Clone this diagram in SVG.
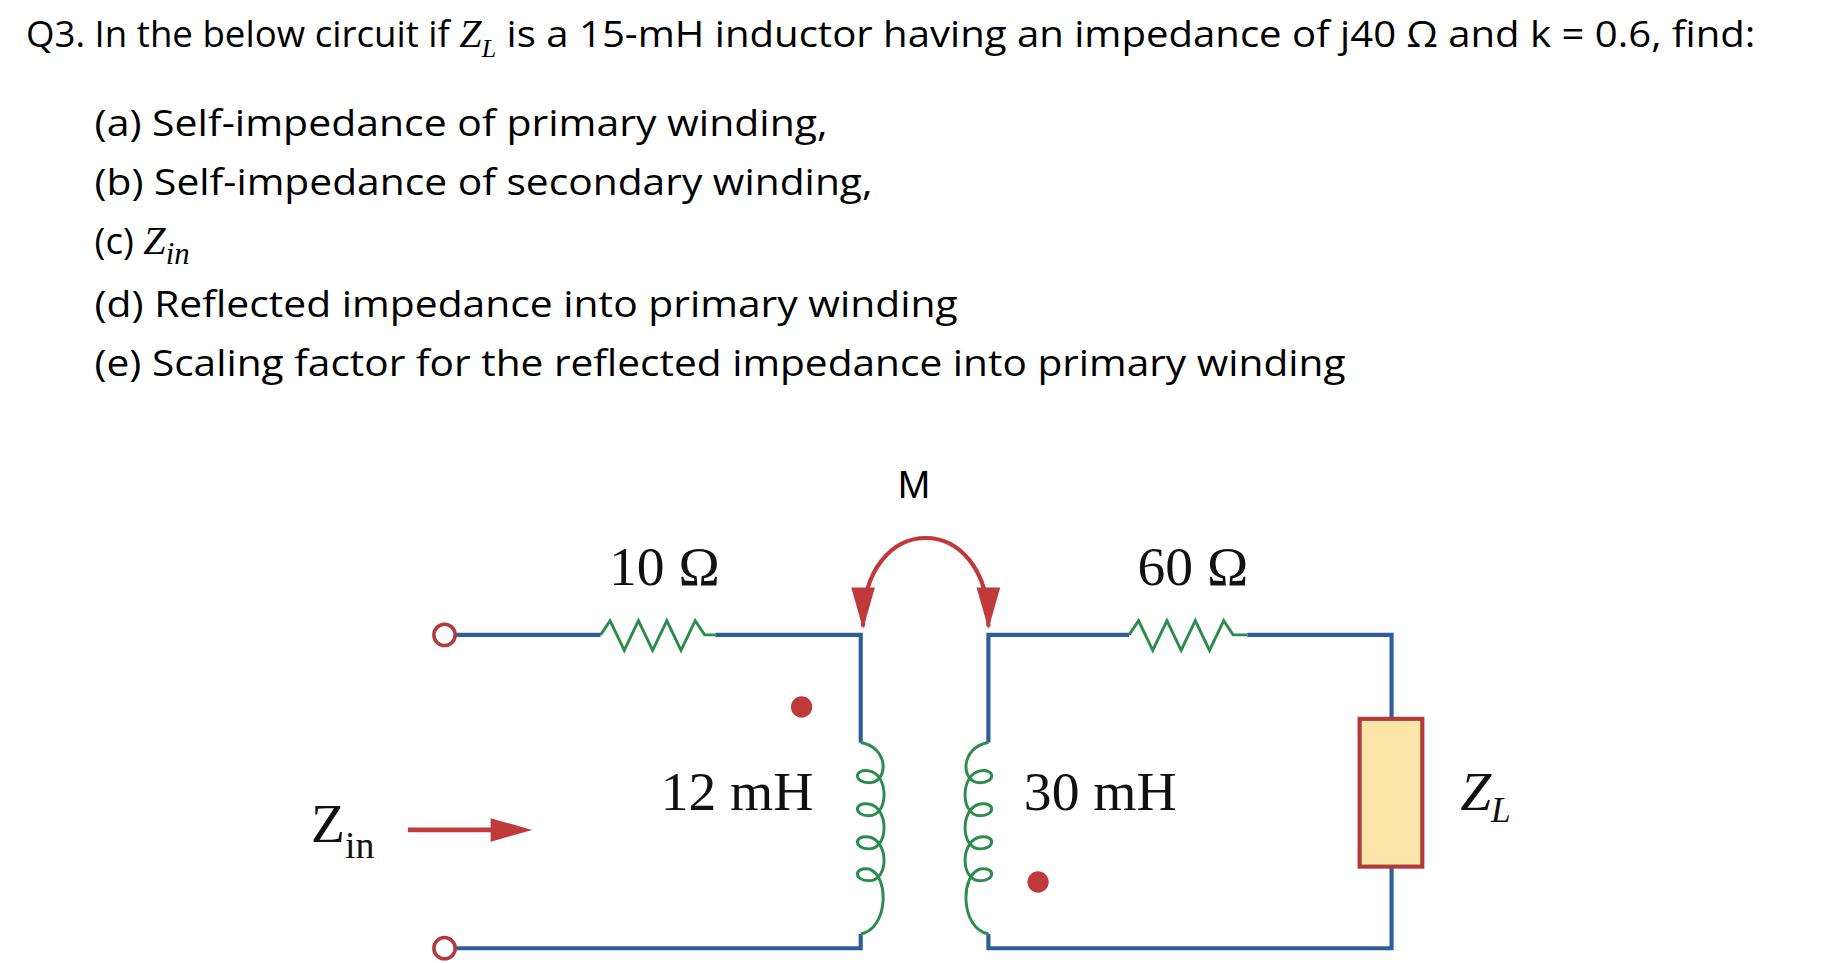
<svg xmlns="http://www.w3.org/2000/svg" width="1835" height="963" viewBox="0 0 1835 963">
<style>
.t{font-family:"Open Sans","Liberation Sans",sans-serif;font-size:31px;fill:#000}
.s{font-family:"Liberation Serif",serif;font-size:47px;fill:#111}
.w{fill:none;stroke:#2f5d9a;stroke-width:3.5}
.g{fill:none;stroke:#2e8b4e;stroke-width:2.5}
.r{fill:#c0393b}
</style>
<rect width="1835" height="963" fill="#fff"/>
<g transform="scale(1.1823)">
<g id="question">
<text class="t" x="22" y="40">Q3. In the below circuit if <tspan font-family="Liberation Serif" font-style="italic" font-size="34">Z</tspan><tspan font-family="Liberation Serif" font-style="italic" font-size="22" dy="8">L</tspan><tspan dy="-8" textLength="1065" lengthAdjust="spacingAndGlyphs"> is a 15-mH inductor having an impedance of j40 Ω and k = 0.6, find:</tspan></text>
<text class="t" x="80" y="115" textLength="620" lengthAdjust="spacingAndGlyphs">(a) Self-impedance of primary winding,</text>
<text class="t" x="80" y="165" textLength="658" lengthAdjust="spacingAndGlyphs">(b) Self-impedance of secondary winding,</text>
<text class="t" x="80" y="215">(c)  <tspan font-family="Liberation Serif" font-style="italic" font-size="34">Z</tspan><tspan font-family="Liberation Serif" font-style="italic" font-size="26" dy="8">in</tspan></text>
<text class="t" x="80" y="268" textLength="730" lengthAdjust="spacingAndGlyphs">(d) Reflected impedance into primary winding</text>
<text class="t" x="80" y="318" textLength="1058" lengthAdjust="spacingAndGlyphs">(e) Scaling factor for the reflected impedance into primary winding</text>
</g>
<g id="connectors">
<path class="w" d="M385,537H508M605,537H728V628M728,790V802H385"/>
<path class="w" d="M836,628V537H955M1055,537H1177V608M1177,733V802H836V790"/>
</g>
<g id="terminals">
<circle cx="376" cy="537" r="9" fill="#fff" stroke="#b23a3c" stroke-width="3"/>
<circle cx="376" cy="802" r="9" fill="#fff" stroke="#b23a3c" stroke-width="3"/>
</g>
<g id="R1"><path class="g" d="M508,537L516,525L528,550L540,525L552,550L564,525L576,550L588,525L596,537L605,537"/><text class="s" x="562" y="495" text-anchor="middle">10 Ω</text></g>
<g id="R2"><path class="g" d="M955,537L963,525L975,550L987,525L999,550L1011,525L1023,550L1035,525L1043,537L1055,537"/><text class="s" x="1009" y="495" text-anchor="middle">60 Ω</text></g>
<g id="L1"><path class="g" d="M728,628C752,632 752,662 735,662C722,662 722,650 735,652C752,655 752,690 735,690C722,690 722,678 735,680C752,683 752,718 735,718C722,718 722,706 735,708C752,711 752,745 735,745C722,745 722,733 735,735C752,740 752,785 728,790"/><text class="s" x="688" y="685" text-anchor="end">12 mH</text></g>
<g id="L2"><path class="g" d="M836,628C812,632 812,662 829,662C842,662 842,650 829,652C812,655 812,690 829,690C842,690 842,678 829,680C812,683 812,718 829,718C842,718 842,706 829,708C812,711 812,745 829,745C842,745 842,733 829,735C812,740 812,785 836,790"/><text class="s" x="866" y="685">30 mH</text></g>
<g id="dots"><circle class="r" cx="678" cy="598" r="9"/><circle class="r" cx="878" cy="746" r="9"/></g>
<g id="ZL"><rect x="1150" y="608" width="53" height="125" fill="#fbe6aa" stroke="#b23a3c" stroke-width="3.5"/><text class="s" x="1235" y="685" font-style="italic">Z<tspan font-size="30" dy="10">L</tspan></text></g>
<g id="M"><path d="M730,530C728,430 838,430 836,530" fill="none" stroke="#c0393b" stroke-width="3.5"/><path class="r" d="M720,497L740,497L730,532z"/><path class="r" d="M826,497L846,497L836,532z"/><text x="773" y="421" text-anchor="middle" font-family="Liberation Sans,sans-serif" font-size="33">M</text></g>
<g id="Zin"><text class="s" x="263" y="712">Z<tspan font-size="32" dy="14">in</tspan></text><path d="M345,702H420" stroke="#c0393b" stroke-width="4"/><path class="r" d="M415,692L450,702L415,712z"/></g>
</g>
</svg>
